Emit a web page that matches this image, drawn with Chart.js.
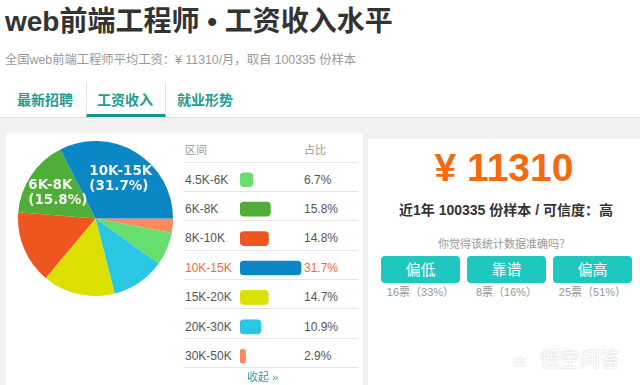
<!DOCTYPE html>
<html>
<head>
<meta charset="utf-8">
<script src="https://cdn.jsdelivr.net/npm/chart.js@4.4.1/dist/chart.umd.min.js"></script>
<style>
  body { margin: 0; width: 640px; height: 385px; overflow: hidden; background: #fff;
         font-family: "Liberation Sans", "Noto Sans CJK SC", sans-serif; position: relative; }
  .abs { position: absolute; white-space: nowrap; }
  #title { left: 5px; top: 2px; font-size: 28px; font-weight: bold; color: #333; line-height: 40px; }
  #sub { left: 5px; top: 51px; font-size: 12.3px; color: #999; line-height: 18px; }
  .tab { top: 90px; font-size: 14px; font-weight: bold; color: #1f9b8f; line-height: 20px; }
  #tabOn { left: 86px; top: 82px; width: 78px; height: 32px; border-left: 1px solid #e4e4e4;
           border-right: 1px solid #e4e4e4; border-bottom: 3px solid #16968c; background: #fff; }
  #band { left: 0; top: 117px; width: 640px; height: 268px; background: #f2f2f2; border-top: 1px solid #ddd; }
  #leftP { left: 6px; top: 133px; width: 357px; height: 252px; background: #fff; }
  #rightP { left: 368px; top: 139px; width: 272px; height: 246px; background: #fff; }
  .hd { font-size: 11px; color: #999; top: 143px; line-height: 14px; }
  .rowline { left: 185px; width: 173px; height: 0; border-top: 1px solid #e6e6e6; }
  .cell { font-size: 12px; color: #555; line-height: 16px; }
  .hot { color: #f26a3c; }
  #more { left: 247px; top: 369px; font-size: 11px; color: #3a9d9d; line-height: 16px; }
  #price { left: 368px; width: 272px; top: 145px; text-align: center; font-size: 39px; font-weight: bold; color: #f5690f; line-height: 46px; }
  #info { left: 370px; width: 272px; top: 201px; text-align: center; font-size: 14px; font-weight: bold; color: #333; line-height: 18px; }
  #ask { left: 368px; width: 272px; top: 236px; text-align: center; font-size: 11px; color: #999; line-height: 16px; }
  .btn { top: 256px; width: 79px; height: 27px; background: #1ec8be; border-radius: 4px; color: #fff;
         font-size: 15px; text-align: center; line-height: 27px; }
  .vote { top: 285px; width: 79px; text-align: center; font-size: 11px; color: #999; line-height: 15px; }
  #mark { left: 540px; top: 347px; font-size: 20px; color: rgba(255,255,255,0.95); line-height: 26px;
          text-shadow: 0 0 2px rgba(0,0,0,0.25); }
  #logo { left: 512px; top: 351px; font-size: 18px; color: rgba(255,255,255,0.95); line-height: 22px;
          text-shadow: 0 0 2px rgba(0,0,0,0.25); }
</style>
</head>
<body>
<div class="abs" id="title">web前端工程师 • 工资收入水平</div>
<div class="abs" id="sub">全国web前端工程师平均工资：¥ 11310/月，取自 100335 份样本</div>
<div class="abs" id="band"></div>
<div class="abs" id="tabOn"></div>
<div class="abs tab" style="left:17px">最新招聘</div>
<div class="abs tab" style="left:97px">工资收入</div>
<div class="abs tab" style="left:177px">就业形势</div>
<div class="abs" id="leftP"></div>
<div class="abs" id="rightP"></div>

<canvas id="pie" width="155" height="155" class="abs" style="left:18px;top:141px"></canvas>
<div id="table"></div>
<canvas id="bars" width="66" height="206" class="abs" style="left:240px;top:165px"></canvas>
<div class="abs" id="more">收起 »</div>

<div class="abs" id="price">¥ 11310</div>
<div class="abs" id="info">近1年 100335 份样本 / 可信度：高</div>
<div class="abs" id="ask">你觉得该统计数据准确吗？</div>
<div id="votes"></div>
<div class="abs" id="logo">≏</div>
<div class="abs" id="mark">悟空问答</div>

<script>
// 薪资区间 (表格顺序)
const ranges = ['4.5K-6K', '6K-8K', '8K-10K', '10K-15K', '15K-20K', '20K-30K', '30K-50K'];
const shares = [6.7, 15.8, 14.8, 31.7, 14.7, 10.9, 2.9];
const colors = ['#66df6f', '#4fae37', '#ee561f', '#0b87c6', '#dce000', '#2ac6e3', '#fb8b5b'];
// 饼图里扇区的顺序 (从3点钟方向顺时针)
const pieOrder = [6, 0, 5, 4, 2, 1, 3];

const voteLabels = ['偏低', '靠谱', '偏高'];
const voteCounts = [16, 8, 25];
const votePcts = [33, 16, 51];

// 表格
const tbl = document.getElementById('table');
let html = '<div class="abs hd" style="left:185px">区间</div><div class="abs hd" style="left:304px">占比</div>';
const rowH = 29.37;
for (let i = 0; i <= ranges.length; i++) {
    html += '<div class="abs rowline" style="top:' + (161.5 + rowH * i) + 'px"></div>';
}
ranges.forEach((r, i) => {
    const top = 161.7 + rowH * i + 10;
    const cls = r === '10K-15K' ? 'abs cell hot' : 'abs cell';
    html += '<div class="' + cls + '" style="left:185px;top:' + top + 'px">' + r + '</div>';
    html += '<div class="' + cls + '" style="left:304px;top:' + top + 'px">' + shares[i] + '%</div>';
});
tbl.innerHTML = html;

// 投票按钮
const vEl = document.getElementById('votes');
let vh = '';
voteLabels.forEach((v, i) => {
    const left = 381 + i * 86;
    vh += '<div class="abs btn" style="left:' + left + 'px">' + v + '</div>';
    vh += '<div class="abs vote" style="left:' + left + 'px">' + voteCounts[i] + '票（' + votePcts[i] + '%）</div>';
});
vEl.innerHTML = vh;

// 饼图上的标签 (只标大扇区)
const pieLabels = {
    id: 'pieLabels',
    afterDatasetsDraw(chart) {
        const ctx = chart.ctx;
        const meta = chart.getDatasetMeta(0);
        ctx.save();
        ctx.font = 'bold 13.5px "DejaVu Sans"';
        ctx.fillStyle = '#f2f2f2';
        ctx.textBaseline = 'middle';
        ctx.textAlign = 'left';
        meta.data.forEach((arc, i) => {
            const idx = pieOrder[i];
            if (shares[idx] < 15) return;
            const a = (arc.startAngle + arc.endAngle) / 2;
            const r = arc.outerRadius * 0.6;
            const cx = arc.x + Math.cos(a) * r;
            const cy = arc.y + Math.sin(a) * r;
            const l1 = ranges[idx];
            const l2 = '(' + shares[idx] + '%)';
            const w = Math.max(ctx.measureText(l1).width, ctx.measureText(l2).width);
            ctx.fillText(l1, cx - w / 2 + 1, cy - 7.5);
            ctx.fillText(l2, cx - w / 2 + 1, cy + 8);
        });
        ctx.restore();
    }
};

new Chart(document.getElementById('pie'), {
    type: 'pie',
    data: {
        labels: pieOrder.map(i => ranges[i]),
        datasets: [{
            data: pieOrder.map(i => shares[i]),
            backgroundColor: pieOrder.map(i => colors[i]),
            borderWidth: 0
        }]
    },
    options: {
        responsive: false,
        animation: false,
        rotation: 90,
        layout: { padding: 0 },
        plugins: { legend: { display: false }, tooltip: { enabled: false } }
    },
    plugins: [pieLabels]
});

// 表格里的小条形
new Chart(document.getElementById('bars'), {
    type: 'bar',
    data: {
        labels: ranges,
        datasets: [{
            data: shares,
            backgroundColor: colors,
            borderRadius: 4,
            borderSkipped: false,
            barThickness: 14
        }]
    },
    options: {
        indexAxis: 'y',
        responsive: false,
        animation: false,
        layout: { padding: 0 },
        scales: {
            x: { display: false, min: 0, max: 34.3 },
            y: { display: false }
        },
        plugins: { legend: { display: false }, tooltip: { enabled: false } }
    }
});
</script>
</body>
</html>
